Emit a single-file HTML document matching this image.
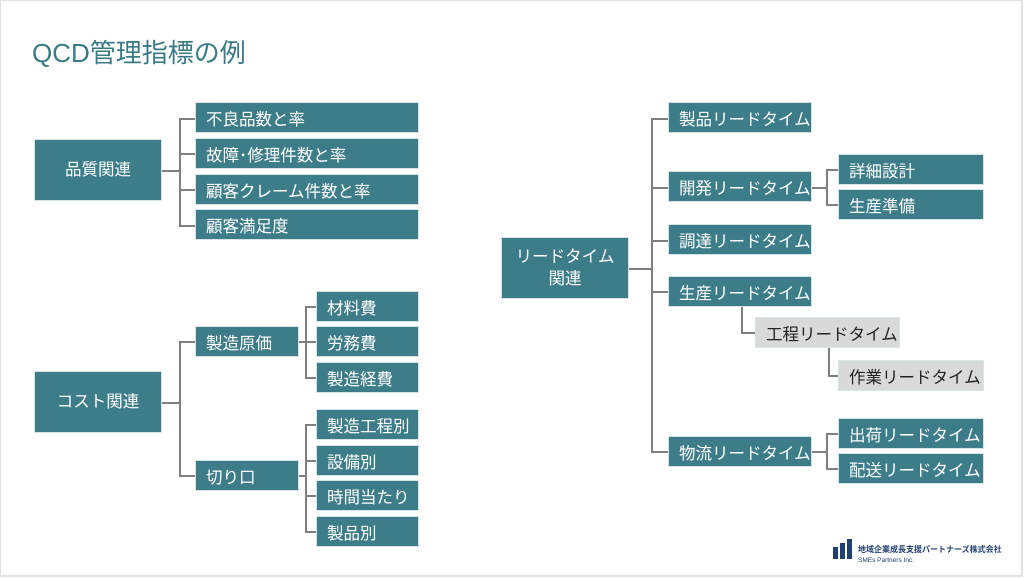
<!DOCTYPE html>
<html><head><meta charset="utf-8"><style>
body{margin:0;width:1024px;height:578px;background:#fff;position:relative;overflow:hidden;font-family:"Liberation Sans","Noto Sans CJK JP",sans-serif}
.frame{position:absolute;left:0;top:0;width:1020px;height:574px;border:2px solid #e2e2e2;border-left-width:1px;border-top-width:1px}
.b{position:absolute;background:#3d7c89;color:#fff;font-size:16.5px;display:flex;align-items:center;padding-left:10px;box-sizing:border-box;border:1px solid #d8e4e6}
.c{justify-content:center;padding-left:0;text-align:center;line-height:22px}
.g{background:#d9d9d9;color:#222}
.l{position:absolute;background:#7f7f7f}
.h{height:1.5px}.v{width:1.5px}
</style></head><body>
<div class="frame"></div>
<div style="position:absolute;left:32px;top:33px;font-size:26px;color:#3a7a86">QCD管理指標の例</div>

<div class="b c" style="left:34px;top:139px;width:128px;height:62px">品質関連</div>
<div class="l h" style="left:162px;top:170px;width:17px"></div>
<div class="l v" style="left:179px;top:118px;height:108px"></div>
<div class="l h" style="left:179px;top:118px;width:16px"></div>
<div class="l h" style="left:179px;top:153px;width:16px"></div>
<div class="l h" style="left:179px;top:189px;width:16px"></div>
<div class="l h" style="left:179px;top:225px;width:16px"></div>
<div class="b" style="left:195px;top:102px;width:224px;height:31px">不良品数と率</div>
<div class="b" style="left:195px;top:138px;width:224px;height:31px">故障･修理件数と率</div>
<div class="b" style="left:195px;top:174px;width:224px;height:31px">顧客クレーム件数と率</div>
<div class="b" style="left:195px;top:209px;width:224px;height:31px">顧客満足度</div>

<div class="b c" style="left:34px;top:371px;width:128px;height:62px">コスト関連</div>
<div class="l h" style="left:162px;top:402px;width:17px"></div>
<div class="l v" style="left:179px;top:341px;height:135px"></div>
<div class="l h" style="left:179px;top:341px;width:16px"></div>
<div class="l h" style="left:179px;top:475px;width:16px"></div>
<div class="b" style="left:195px;top:326px;width:104px;height:31px">製造原価</div>
<div class="b" style="left:195px;top:460px;width:104px;height:31px">切り口</div>
<div class="l h" style="left:299px;top:341px;width:6px"></div>
<div class="l v" style="left:305px;top:306px;height:72px"></div>
<div class="l h" style="left:305px;top:306px;width:11px"></div>
<div class="l h" style="left:305px;top:341px;width:11px"></div>
<div class="l h" style="left:305px;top:377px;width:11px"></div>
<div class="b" style="left:316px;top:291px;width:103px;height:31px">材料費</div>
<div class="b" style="left:316px;top:326px;width:103px;height:31px">労務費</div>
<div class="b" style="left:316px;top:362px;width:103px;height:31px">製造経費</div>
<div class="l h" style="left:299px;top:475px;width:6px"></div>
<div class="l v" style="left:305px;top:424px;height:108px"></div>
<div class="l h" style="left:305px;top:424px;width:11px"></div>
<div class="l h" style="left:305px;top:460px;width:11px"></div>
<div class="l h" style="left:305px;top:495px;width:11px"></div>
<div class="l h" style="left:305px;top:531px;width:11px"></div>
<div class="b" style="left:316px;top:409px;width:103px;height:31px">製造工程別</div>
<div class="b" style="left:316px;top:445px;width:103px;height:31px">設備別</div>
<div class="b" style="left:316px;top:480px;width:103px;height:31px">時間当たり</div>
<div class="b" style="left:316px;top:516px;width:103px;height:31px">製品別</div>

<div class="b c" style="left:501px;top:237px;width:128px;height:62px">リードタイム<br>関連</div>
<div class="l h" style="left:629px;top:268px;width:22px"></div>
<div class="l v" style="left:651px;top:118px;height:334px"></div>
<div class="l h" style="left:651px;top:118px;width:17px"></div>
<div class="l h" style="left:651px;top:187px;width:17px"></div>
<div class="l h" style="left:651px;top:240px;width:17px"></div>
<div class="l h" style="left:651px;top:291px;width:17px"></div>
<div class="l h" style="left:651px;top:451px;width:17px"></div>
<div class="b" style="left:668px;top:102px;width:144px;height:31px">製品リードタイム</div>
<div class="b" style="left:668px;top:171px;width:144px;height:31px">開発リードタイム</div>
<div class="b" style="left:668px;top:224px;width:144px;height:31px">調達リードタイム</div>
<div class="b" style="left:668px;top:276px;width:144px;height:31px">生産リードタイム</div>
<div class="b" style="left:668px;top:436px;width:144px;height:31px">物流リードタイム</div>
<div class="l h" style="left:812px;top:187px;width:14px"></div>
<div class="l v" style="left:826px;top:169px;height:36px"></div>
<div class="l h" style="left:826px;top:169px;width:12px"></div>
<div class="l h" style="left:826px;top:204px;width:12px"></div>
<div class="b" style="left:838px;top:154px;width:146px;height:31px">詳細設計</div>
<div class="b" style="left:838px;top:189px;width:146px;height:31px">生産準備</div>
<div class="l v" style="left:741px;top:307px;height:26px"></div>
<div class="l h" style="left:741px;top:332px;width:14px"></div>
<div class="b g" style="left:755px;top:317px;width:145px;height:31px">工程リードタイム</div>
<div class="l v" style="left:828px;top:348px;height:28px"></div>
<div class="l h" style="left:828px;top:375px;width:10px"></div>
<div class="b g" style="left:838px;top:360px;width:146px;height:31px">作業リードタイム</div>
<div class="l h" style="left:812px;top:451px;width:14px"></div>
<div class="l v" style="left:826px;top:433px;height:36px"></div>
<div class="l h" style="left:826px;top:433px;width:12px"></div>
<div class="l h" style="left:826px;top:468px;width:12px"></div>
<div class="b" style="left:838px;top:418px;width:146px;height:31px">出荷リードタイム</div>
<div class="b" style="left:838px;top:453px;width:146px;height:31px">配送リードタイム</div>

<div style="position:absolute;left:833px;top:547px;width:5px;height:12px;background:#1f3f73"></div>
<div style="position:absolute;left:840px;top:543px;width:5px;height:16px;background:#1f3f73"></div>
<div style="position:absolute;left:847px;top:539px;width:5px;height:20px;background:#1f3f73"></div>
<div style="position:absolute;left:858px;top:544px;font-size:8px;color:#1f3f73;white-space:nowrap;font-weight:bold">地域企業成長支援パートナーズ株式会社</div>
<div style="position:absolute;left:858px;top:557px;font-size:6.5px;color:#1f3f73;white-space:nowrap">SMEs Partners Inc.</div>
</body></html>
